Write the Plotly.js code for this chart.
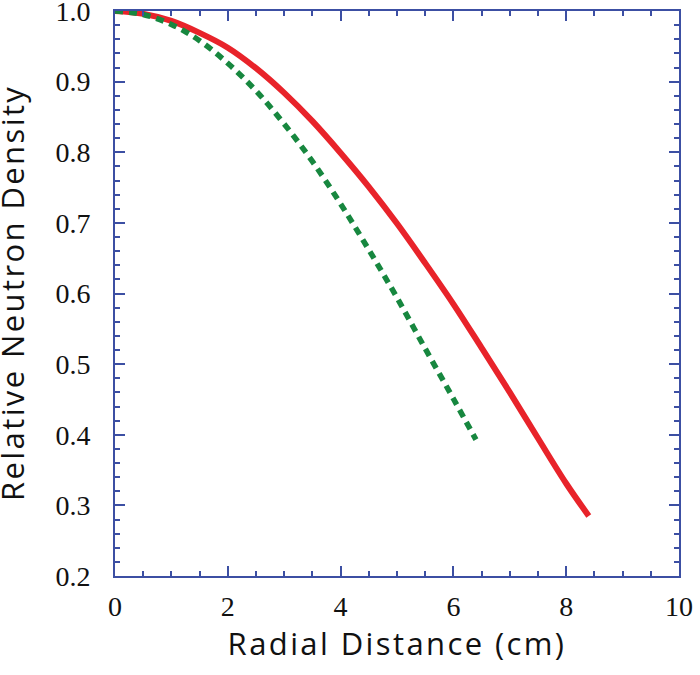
<!DOCTYPE html>
<html>
<head>
<meta charset="utf-8">
<script src="https://cdn.plot.ly/plotly-3.0.1.min.js"></script>
<style>
  html, body { margin: 0; padding: 0; background: #fff; }
  #chart { width: 700px; height: 675px; }
  /* slightly open tracking on the axis titles */
  .xtitle, .annotation-text { letter-spacing: 2.4px; }
</style>
</head>
<body>
<div id="chart"></div>
<script>
// Radial distance (cm) and relative neutron density for the two profiles
const radiusSolid = [0, 0.5, 1, 1.5, 2, 2.5, 3, 3.5, 4, 4.5, 5, 5.5, 6, 6.5, 7, 7.5, 8, 8.4];
const densitySolid = [1.0, 0.996, 0.986, 0.969, 0.948, 0.919, 0.884, 0.844, 0.799, 0.751, 0.699, 0.643, 0.585, 0.523, 0.460, 0.395, 0.331, 0.285];

const radiusDashed = [0, 0.5, 1, 1.5, 2, 2.5, 3, 3.5, 4, 4.5, 5, 5.5, 6, 6.4];
const densityDashed = [1.0, 0.995, 0.981, 0.958, 0.926, 0.887, 0.840, 0.787, 0.727, 0.662, 0.594, 0.522, 0.451, 0.393];

const xTickVals = [0, 2, 4, 6, 8, 10];
const yTickVals = [0.2, 0.3, 0.4, 0.5, 0.6, 0.7, 0.8, 0.9, 1.0];
const yTickText = ['0.2', '0.3', '0.4', '0.5', '0.6', '0.7', '0.8', '0.9', '1.0'];

const axisColor = '#3c4fa3';
const tickFont = { family: 'Liberation Serif, Times New Roman, serif', size: 28, color: '#111' };
const titleFont = { family: 'Open Sans, sans-serif', size: 31, color: '#111' };

const traces = [
  {
    x: radiusSolid, y: densitySolid, type: 'scatter', mode: 'lines',
    line: { color: '#e8232a', width: 6, shape: 'spline', smoothing: 1 },
    hoverinfo: 'skip'
  },
  {
    x: radiusDashed, y: densityDashed, type: 'scatter', mode: 'lines',
    line: { color: '#17873f', width: 5.5, dash: '8px,6px', shape: 'spline', smoothing: 1 },
    hoverinfo: 'skip'
  }
];

const commonAxis = {
  showline: true, linecolor: axisColor, linewidth: 2, mirror: 'allticks',
  ticks: 'inside', ticklen: 10, tickwidth: 2, tickcolor: axisColor,
  showgrid: false, zeroline: false, tickfont: tickFont, ticklabeloverflow: 'allow'
};

const layout = {
  width: 700, height: 675,
  margin: { l: 115, r: 21, t: 11, b: 99 },
  paper_bgcolor: '#fff', plot_bgcolor: '#fff',
  showlegend: false,
  xaxis: Object.assign({}, commonAxis, {
    range: [0, 10], tickmode: 'array', tickvals: xTickVals,
    ticktext: xTickVals.map(String), ticklabelstandoff: 4,
    minor: { dtick: 0.5, ticklen: 5, tickwidth: 2, tickcolor: axisColor, ticks: 'inside' },
    title: { text: 'Radial Distance (cm)', font: titleFont, standoff: 0 }
  }),
  yaxis: Object.assign({}, commonAxis, {
    range: [0.2, 1.0], tickmode: 'array', tickvals: yTickVals,
    ticktext: yTickText, ticklabelstandoff: 17,
    minor: { dtick: 0.02, tick0: 0.2, ticklen: 5, tickwidth: 2, tickcolor: axisColor, ticks: 'inside' }
  }),
  // vertical axis title placed just inside the left page edge
  annotations: [{
    text: 'Relative Neutron Density', textangle: -90,
    xref: 'paper', yref: 'paper', x: -0.1835, y: 0.5,
    xanchor: 'center', yanchor: 'middle', showarrow: false,
    font: titleFont
  }]
};

Plotly.newPlot('chart', traces, layout, { displayModeBar: false, staticPlot: true });
</script>
</body>
</html>
